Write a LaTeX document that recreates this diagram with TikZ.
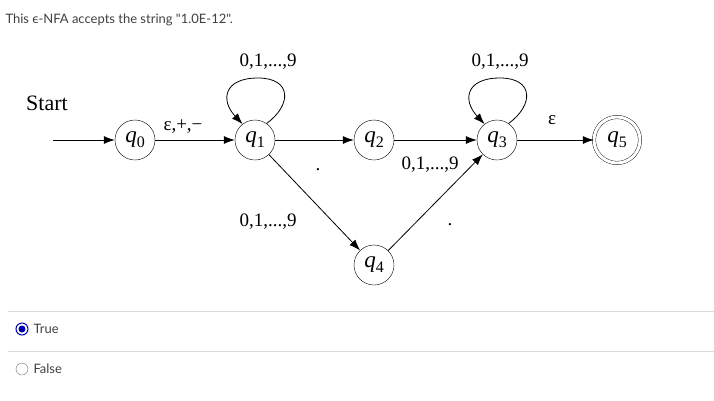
\documentclass[tikz,border=0pt]{standalone}
\usepackage{fontspec}
\setmainfont{Liberation Serif}
\newfontfamily\uifont{Lato}
\usetikzlibrary{arrows.meta}
\newcommand{\qs}[1]{{\itshape q}\raisebox{-5pt}{\fontsize{16}{16}\selectfont #1}}
\begin{document}
\begin{tikzpicture}[x=1pt,y=-1pt,
  st/.style={draw,circle,minimum size=40pt,inner sep=0pt,font=\fontsize{23}{23}\selectfont},
  acc/.style={st,double,double distance=3pt,minimum size=46pt},
  lab/.style={font=\fontsize{19}{19}\selectfont},
  edge/.style={-{Latex[length=11pt,width=8pt]},line width=0.8pt},
  ui/.style={font=\uifont\fontsize{13}{13}\selectfont,text=black!75,anchor=west}]
\useasboundingbox (0,0) rectangle (714,400);
\node[ui] (title) at (2,20) {This ϵ-NFA accepts the string "1.0E-12".};
\node[font=\fontsize{22}{22}\selectfont] (start) at (47,103) {Start};
\coordinate (s) at (53,140);
\node[st] (q0) at (135,140) {\qs{0}};
\node[st] (q1) at (255,140) {\qs{1}};
\node[st] (q2) at (374,140) {\qs{2}};
\node[st] (q3) at (497,140) {\qs{3}};
\node[st] (q4) at (374,265) {\qs{4}};
\node[acc] (q5) at (617,140) {\qs{5}};
\draw[edge] (s) -- (q0);
\draw[edge] (q0) -- (q1);
\draw[edge] (q1) -- (q2);
\draw[edge] (q2) -- (q3);
\draw[edge] (q3) -- (q5);
\draw[edge] (q1) -- (q4);
\draw[edge] (q4) -- (q3);
\draw[edge] (q1.55) .. controls (292,105) and (292,78) .. (258,78) .. controls (224,78) and (220,100) .. (q1.128);
\draw[edge] (q3.55) .. controls (534,105) and (534,78) .. (500,78) .. controls (466,78) and (462,100) .. (q3.128);
\node[lab] (l1) at (268,62) {0,1,...,9};
\node[lab] (l3) at (500,62) {0,1,...,9};
\node[lab] (l01) at (183,127) {ε,+,−};
\node[lab] (ld1) at (318,170) {.};
\node[lab] (l23) at (430,165) {0,1,...,9};
\node[lab] (l14) at (268,222) {0,1,...,9};
\node[lab] (ld2) at (450,225) {.};
\node[lab] (l35) at (552,120) {ε};
\draw[black!15] (8,311) -- (714,311);
\draw[black!15] (8,351) -- (714,351);
\node[draw=blue!70!black,line width=1pt,circle,minimum size=12pt,inner sep=0pt] (r1) at (22,329) {};
\node[fill=blue!70!black,circle,minimum size=7pt,inner sep=0pt] (r1d) at (r1) {};
\node[ui] (t) at (30,329) {True};
\node[draw=black!55,circle,minimum size=12pt,inner sep=0pt] (r2) at (22,369) {};
\node[ui] (f) at (30,369) {False};
\end{tikzpicture}
\end{document}
